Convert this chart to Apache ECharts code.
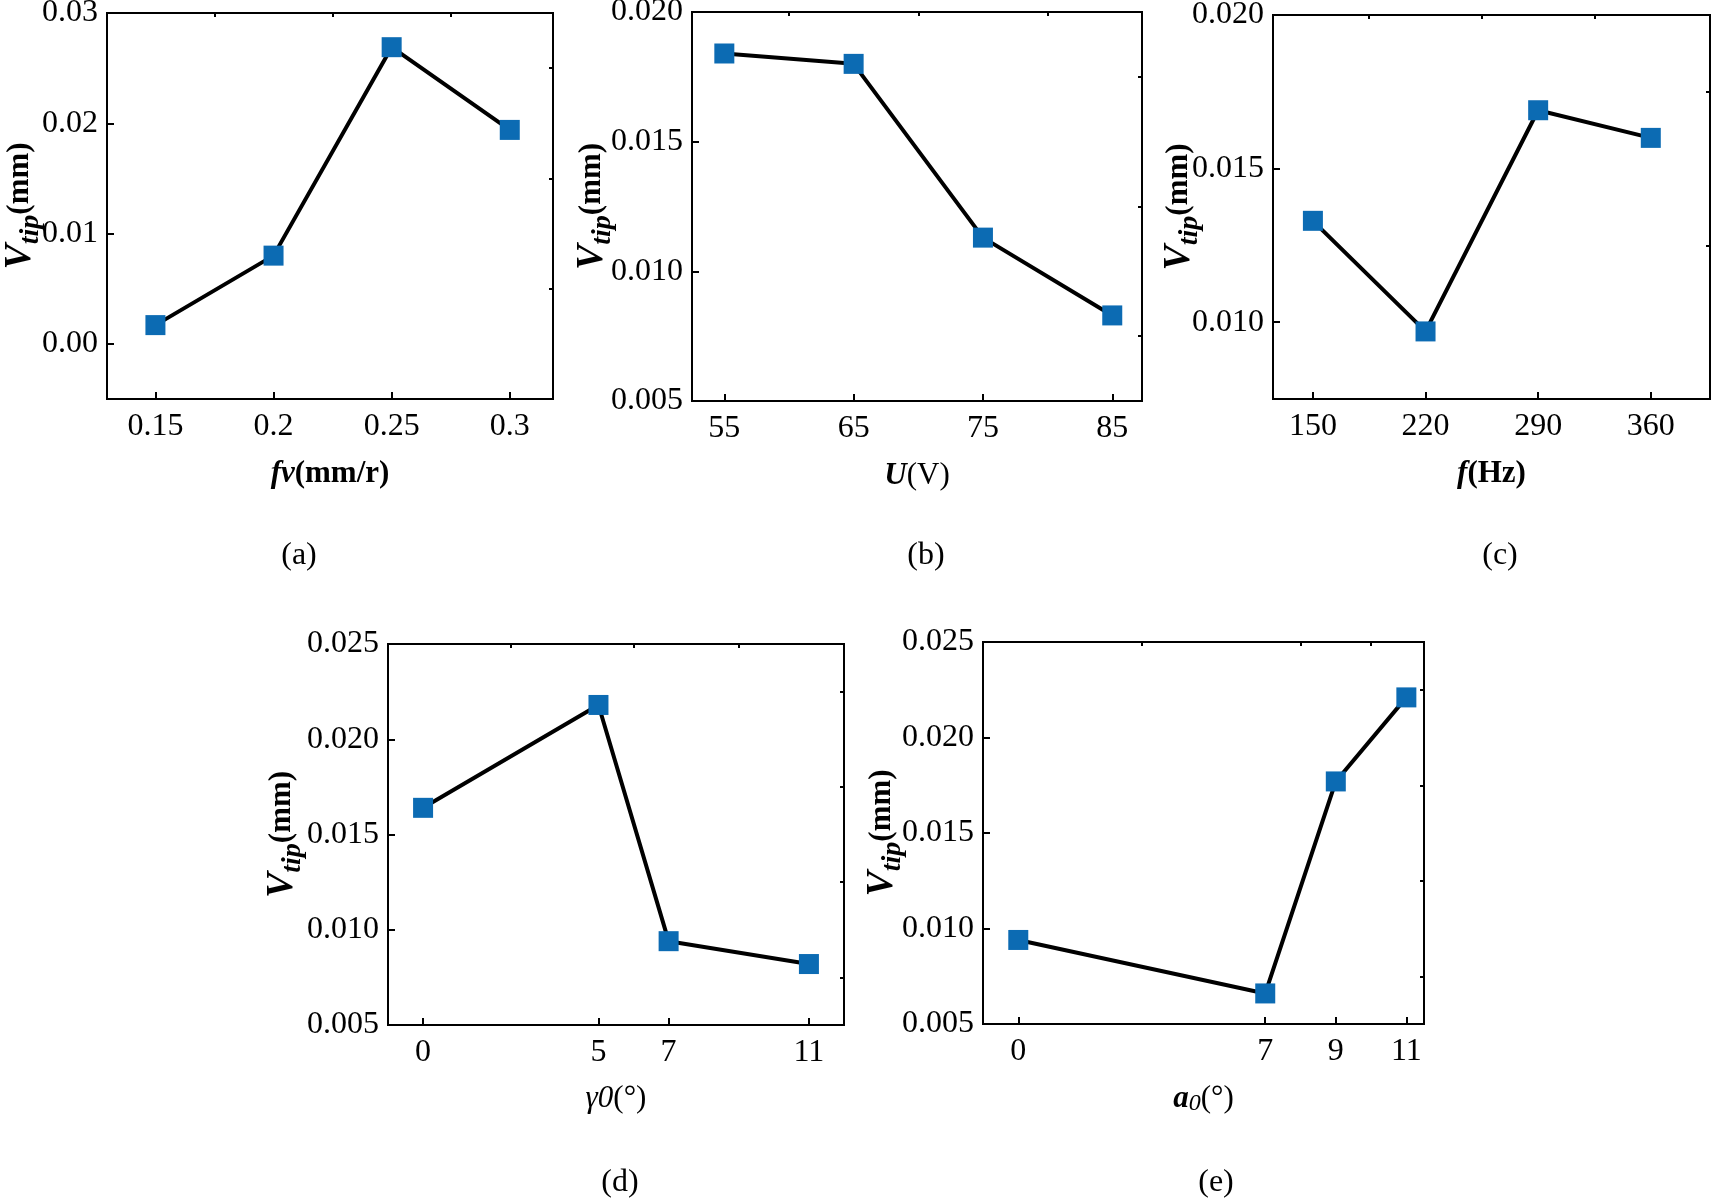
<!DOCTYPE html>
<html>
<head>
<meta charset="utf-8">
<script src="https://cdn.jsdelivr.net/npm/echarts@6/dist/echarts.min.js"></script>
<style>
html,body{margin:0;padding:0;background:#fff;}
#chart{width:1713px;height:1203px;}
</style>
</head>
<body>
<div id="chart"></div>
<script>
// ---- data ----
const aX = [0.15, 0.2, 0.25, 0.3];
const aY = [0.0017, 0.0080, 0.0269, 0.0194];
const bX = [55, 65, 75, 85];
const bY = [0.0184, 0.0180, 0.0113, 0.0083];
const cX = [150, 220, 290, 360];
const cY = [0.0133, 0.0097, 0.0169, 0.0160];
const dX = [0, 5, 7, 11];
const dY = [0.0164, 0.0218, 0.0094, 0.0082];
const eX = [0, 7, 9, 11];
const eY = [0.0094, 0.0066, 0.0177, 0.0221];

// tick values
const aXTicks = [0.15, 0.2, 0.25, 0.3];
const aXMinor = [0.175, 0.225, 0.275];
const aYTicks = [0, 0.01, 0.02, 0.03];
const aYMinor = [0.005, 0.015, 0.025];
const bXTicks = [55, 65, 75, 85];
const bXMinor = [60, 70, 80];
const bYTicks = [0.005, 0.010, 0.015, 0.020];
const bYMinor = [0.0075, 0.0125, 0.0175];
const cXTicks = [150, 220, 290, 360];
const cXMinor = [185, 255, 325];
const cYTicks = [0.010, 0.015, 0.020];
const cYMinor = [0.0125, 0.0175];
const dXTicks = [0, 5, 7, 11];
const dXMinor = [2.5, 6, 9];
const deYTicks = [0.005, 0.010, 0.015, 0.020, 0.025];
const deYMinor = [0.0075, 0.0125, 0.0175, 0.0225];
const eXTicks = [0, 7, 9, 11];
const eXMinor = [3.5, 8, 10];

const captions = ['(a)', '(b)', '(c)', '(d)', '(e)'];

// ---- style ----
const FONT = 'Liberation Serif';
const BLUE = '#0C6BB3';

const panels = [
  {grid:{left:107, top:13, width:446, height:386}, x:aX, y:aY,
   xr:[0.1295, 0.3183], yr:[-0.005, 0.03], xt:aXTicks, xm:aXMinor, yt:aYTicks, ym:aYMinor,
   yfmt: v => v.toFixed(2), xfmt: v => String(v),
   xname:'{bi|fv}{b|(mm/r)}', yGap:65, xGap:59,
   cap:{x:299, y:556}},
  {grid:{left:692, top:12, width:450, height:389}, x:bX, y:bY,
   xr:[52.5, 87.3], yr:[0.005, 0.020], xt:bXTicks, xm:bXMinor, yt:bYTicks, ym:bYMinor,
   yfmt: v => v.toFixed(3), xfmt: v => String(v),
   xname:'{bi|U}{r|(V)}', yGap:78, xGap:59,
   cap:{x:926, y:556}},
  {grid:{left:1273, top:15, width:437, height:384}, x:cX, y:cY,
   xr:[125.2, 396.8], yr:[0.0075, 0.020], xt:cXTicks, xm:cXMinor, yt:cYTicks, ym:cYMinor,
   yfmt: v => v.toFixed(3), xfmt: v => String(v),
   xname:'{bi|f}{b|(Hz)}', yGap:72, xGap:59,
   cap:{x:1500, y:556}},
  {grid:{left:388, top:644, width:456, height:381}, x:dX, y:dY,
   xr:[-1, 12], yr:[0.005, 0.025], xt:dXTicks, xm:dXMinor, yt:deYTicks, ym:deYMinor,
   yfmt: v => v.toFixed(3), xfmt: v => String(v),
   xname:'{i|γ0}{r|(°)}', yGap:84, xGap:58,
   cap:{x:620, y:1183}},
  {grid:{left:983, top:642, width:441, height:382}, x:eX, y:eY,
   xr:[-1, 11.5], yr:[0.005, 0.025], xt:eXTicks, xm:eXMinor, yt:deYTicks, ym:deYMinor,
   yfmt: v => v.toFixed(3), xfmt: v => String(v),
   xname:'{bi|a}{sub|0}{r|(°)}', yGap:79, xGap:58,
   cap:{x:1216, y:1183}}
];

const richX = {
  bi:{fontFamily:FONT, fontSize:31, fontWeight:'bold', fontStyle:'italic', color:'#000'},
  i:{fontFamily:FONT, fontSize:31, fontStyle:'italic', color:'#000'},
  b:{fontFamily:FONT, fontSize:31, fontWeight:'bold', color:'#000'},
  r:{fontFamily:FONT, fontSize:31, color:'#000'},
  sub:{fontFamily:FONT, fontSize:24, fontStyle:'italic', color:'#000', padding:[10,0,0,0]}
};
const richY = {
  V:{fontFamily:FONT, fontSize:38, fontWeight:'bold', fontStyle:'italic', color:'#000', lineHeight:44},
  t:{fontFamily:FONT, fontSize:28, fontWeight:'bold', fontStyle:'italic', color:'#000', lineHeight:30, padding:[22,0,0,0]},
  m:{fontFamily:FONT, fontSize:31, fontWeight:'bold', color:'#000', lineHeight:44}
};

const grids = [], xAxes = [], yAxes = [], series = [], graphics = [];
panels.forEach((p, i) => {
  grids.push(Object.assign({show:true, borderColor:'#000', borderWidth:2, backgroundColor:'transparent',
    containLabel:false, outerBoundsMode:'none'}, p.grid));
  xAxes.push({
    type:'value', gridIndex:i, min:p.xr[0], max:p.xr[1],
    axisLine:{show:true, onZero:false, lineStyle:{color:'#000', width:2}},
    axisTick:{show:true, inside:true, length:7, lineStyle:{color:'#000', width:2}, customValues:p.xt},
    axisLabel:{show:true, margin:12, fontFamily:FONT, fontSize:32, color:'#000', customValues:p.xt, formatter:p.xfmt},
    splitLine:{show:false},
    name:p.xname, nameLocation:'middle', nameGap:p.xGap, nameMoveOverlap:false,
    nameTextStyle:{rich:richX}
  });
  xAxes.push({
    type:'value', gridIndex:i, min:p.xr[0], max:p.xr[1],
    axisLine:{show:false, onZero:false},
    axisTick:{show:true, inside:true, length:4, lineStyle:{color:'#000', width:2}, customValues:p.xm},
    axisLabel:{show:false}, splitLine:{show:false}
  });
  yAxes.push({
    type:'value', gridIndex:i, min:p.yr[0], max:p.yr[1],
    axisLine:{show:true, onZero:false, lineStyle:{color:'#000', width:2}},
    axisTick:{show:true, inside:true, length:7, lineStyle:{color:'#000', width:2}, customValues:p.yt},
    axisLabel:{show:true, margin:9, fontFamily:FONT, fontSize:32, color:'#000', customValues:p.yt, formatter:p.yfmt},
    splitLine:{show:false},
    name:'{V|V}{t|tip}{m|(mm)}', nameLocation:'middle', nameRotate:90, nameGap:p.yGap, nameMoveOverlap:false,
    nameTextStyle:{rich:richY}
  });
  yAxes.push({
    type:'value', gridIndex:i, min:p.yr[0], max:p.yr[1],
    axisLine:{show:false, onZero:false},
    axisTick:{show:true, inside:true, length:4, lineStyle:{color:'#000', width:2}, customValues:p.ym},
    axisLabel:{show:false}, splitLine:{show:false}
  });
  series.push({
    type:'line', xAxisIndex:2*i, yAxisIndex:2*i,
    data:p.x.map((xv, k) => [xv, p.y[k]]),
    symbol:'rect', symbolSize:20,
    lineStyle:{color:'#000', width:4},
    itemStyle:{color:BLUE},
    z:5
  });
  graphics.push({
    type:'text', x:p.cap.x, y:p.cap.y,
    style:{text:captions[i], fontFamily:FONT, fontSize:32, fill:'#000', align:'center', verticalAlign:'middle'}
  });
});

const chart = echarts.init(document.getElementById('chart'), null, {renderer:'canvas'});
chart.setOption({
  animation:false,
  backgroundColor:'#fff',
  grid:grids, xAxis:xAxes, yAxis:yAxes, series:series, graphic:graphics
});
</script>
</body>
</html>
